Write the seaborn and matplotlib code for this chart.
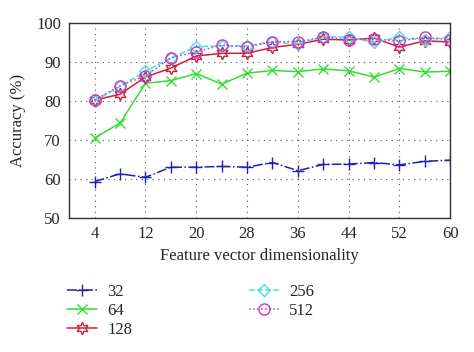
import numpy as np
import pandas as pd
import matplotlib
matplotlib.use("Agg")
import matplotlib.pyplot as plt
import seaborn as sns

dims = [4, 8, 12, 16, 20, 24, 28, 32, 36, 40, 44, 48, 52, 56, 60]
acc_32 = [59.3, 61.3, 60.4, 63.0, 63.0, 63.2, 63.0, 64.2, 62.1, 63.7, 63.8, 64.2, 63.6, 64.5, 64.8]
acc_64 = [70.5, 74.3, 84.5, 85.2, 87.0, 84.3, 87.1, 87.8, 87.5, 88.2, 87.7, 86.1, 88.3, 87.4, 87.6]
acc_128 = [80.2, 81.7, 86.1, 88.4, 91.5, 92.2, 92.2, 93.7, 94.5, 95.8, 95.6, 96.1, 93.8, 95.4, 95.1]
acc_256 = [80.0, 83.7, 87.6, 91.0, 93.9, 94.1, 94.1, 95.1, 94.5, 96.5, 96.3, 95.0, 96.3, 95.6, 96.3]
acc_512 = [80.2, 83.9, 86.4, 91.0, 92.6, 94.3, 93.8, 95.2, 95.2, 96.3, 95.7, 95.8, 95.4, 96.3, 95.7]
labels = ["32", "64", "128", "256", "512"]
xticks = [4, 12, 20, 28, 36, 44, 52, 60]

sns.set_style("ticks")
plt.rcParams["font.family"] = ["Liberation Serif", "DejaVu Serif"]

fig = plt.figure(figsize=(4.74, 3.52), dpi=100)
ax = fig.add_axes([0.146, 0.381, 0.804, 0.554])

styles = [
    ("#1f1fb4", "-.", "+", 9),
    ("#33dd33", "-", "x", 7),
    ("#cc2233", "-", (6, 1, 0), 9),
    ("#44ddee", "--", "D", 6),
    ("#cc33cc", ":", "o", 8),
]
series = [acc_32, acc_64, acc_128, acc_256, acc_512]
for vals, lab, (c, ls, m, ms) in zip(series, labels, styles):
    df = pd.DataFrame({"dim": dims, "acc": vals})
    sns.lineplot(data=df, x="dim", y="acc", ax=ax, color=c, linestyle=ls,
                 marker=m, markersize=ms, markerfacecolor="none",
                 markeredgecolor=c, markeredgewidth=1.0, linewidth=1.1,
                 label=lab, legend=False)

ax.set_xlim(0, 60)
ax.set_ylim(50, 100)
ax.set_xticks(xticks)
ax.set_yticks([50, 60, 70, 80, 90, 100])
ax.grid(True, linestyle=(0, (1, 4)), color="#555555", linewidth=0.8)
ax.tick_params(direction="in", labelsize=12, length=0, pad=6)
for s in ax.spines.values():
    s.set_visible(True)
    s.set_color("#333333")
    s.set_linewidth(1.0)
ax.set_xlabel("Feature vector dimensionality", fontsize=12, labelpad=4)
ax.set_ylabel("Accuracy (%)", fontsize=12, labelpad=7)

h, l = ax.get_legend_handles_labels()
fig.legend(h, l, loc="upper left", bbox_to_anchor=(0.11, 0.237), ncol=2,
           frameon=False, fontsize=12, columnspacing=7.0, handlelength=1.8,
           labelspacing=0.2, handletextpad=0.6)

fig.savefig("out.png", dpi=100)
